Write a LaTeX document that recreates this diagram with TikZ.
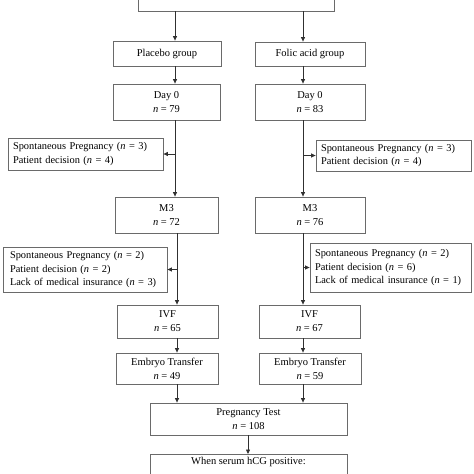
\documentclass[tikz,border=0pt]{standalone}
\usepackage{fontspec}
\setmainfont{Liberation Serif}
\usetikzlibrary{arrows.meta}
\definecolor{boxline}{HTML}{6A6A6A}
\definecolor{conline}{HTML}{303030}
\begin{document}
\begin{tikzpicture}[x=1pt,y=-1pt,
  box/.style={draw=boxline,line width=0.8pt,inner sep=0pt,align=center,
    font=\fontsize{10.5}{14}\selectfont},
  exbox/.style={draw=boxline,line width=0.8pt,inner xsep=5pt,inner ysep=0pt,align=left,
    font=\fontsize{10.4}{13.4}\selectfont},
  arr/.style={draw=conline,line width=0.7pt,-{Triangle[length=4.5pt,width=4pt]}}]
\useasboundingbox[fill=white] (0,0) rectangle (474,474);
\coordinate (cL) at (175,0);
\coordinate (cR) at (303,0);
\coordinate (cL2) at (177,0);
\coordinate (cM) at (248,0);
% boxes
\node[box,minimum width=196pt,minimum height=42pt] (top) at (236,-10) {};
\node[box,minimum width=108pt,minimum height=25pt] (placebo) at (167,53.5) {Placebo group};
\node[box,minimum width=110pt,minimum height=24pt] (folic) at (310,54) {Folic acid group};
\node[box,minimum width=107pt,minimum height=36pt] (day0L) at (166.5,102) {Day 0\\\textit{n}~=~79};
\node[box,minimum width=110pt,minimum height=36pt] (day0R) at (310,102) {Day 0\\\textit{n}~=~83};
\node[exbox,text width=145pt,minimum height=32pt] (exL1) at (85.5,154)
  {Spontaneous Pregnancy (\textit{n}~=~3)\\Patient decision (\textit{n}~=~4)};
\node[exbox,text width=145pt,minimum height=31pt] (exR1) at (393.5,155.5)
  {Spontaneous Pregnancy (\textit{n}~=~3)\\Patient decision (\textit{n}~=~4)};
\node[box,minimum width=103pt,minimum height=36pt] (m3L) at (166.5,215) {M3\\\textit{n}~=~72};
\node[box,minimum width=110pt,minimum height=36pt] (m3R) at (310,215) {M3\\\textit{n}~=~76};
\node[exbox,inner xsep=7pt,text width=150pt,minimum height=45pt] (exL2) at (85,269.5)
  {Spontaneous Pregnancy (\textit{n}~=~2)\\Patient decision (\textit{n}~=~2)\\Lack of medical insurance (\textit{n}~=~3)};
\node[exbox,text width=151pt,minimum height=49pt] (exR2) at (390.5,267.5)
  {Spontaneous Pregnancy (\textit{n}~=~2)\\Patient decision (\textit{n}~=~6)\\Lack of medical insurance (\textit{n}~=~1)};
\node[box,minimum width=101pt,minimum height=33pt] (ivfL) at (167.5,321.5) {IVF\\\textit{n}~=~65};
\node[box,minimum width=101pt,minimum height=33pt] (ivfR) at (309.5,321.5) {IVF\\\textit{n}~=~67};
\node[box,minimum width=102pt,minimum height=31pt] (etL) at (167,368.5) {Embryo Transfer\\\textit{n}~=~49};
\node[box,minimum width=102pt,minimum height=31pt] (etR) at (310,368.5) {Embryo Transfer\\\textit{n}~=~59};
\node[box,minimum width=197pt,minimum height=32pt] (preg) at (248.5,419) {Pregnancy Test\\\textit{n}~=~108};
\node[box,minimum width=197pt,inner ysep=3pt,text depth=40pt,anchor=north] (final) at (248.5,454)
  {When serum hCG positive:};
% connectors
\draw[arr] (top.south -| cL) -- (placebo.north -| cL);
\draw[arr] (top.south -| cR) -- (folic.north -| cR);
\draw[arr] (placebo.south -| cL) -- (day0L.north -| cL);
\draw[arr] (folic.south -| cR) -- (day0R.north -| cR);
\draw[arr] (day0L.south -| cL) -- (m3L.north -| cL);
\draw[arr] (day0R.south -| cR) -- (m3R.north -| cR);
\draw[arr] (exL1.east -| cL) -- (exL1.east);
\draw[arr] (exR1.west -| cR) -- (exR1.west);
\draw[arr] (m3L.south -| cL2) -- (ivfL.north -| cL2);
\draw[arr] (m3R.south -| cR) -- (ivfR.north -| cR);
\draw[arr] (exL2.east -| cL2) -- (exL2.east);
\draw[arr] (exR2.west -| cR) -- (exR2.west);
\draw[arr] (ivfL.south -| cL2) -- (etL.north -| cL2);
\draw[arr] (ivfR.south -| cR) -- (etR.north -| cR);
\draw[arr] (etL.south -| cL2) -- (preg.north -| cL2);
\draw[arr] (etR.south -| cR) -- (preg.north -| cR);
\draw[arr] (preg.south -| cM) -- (final.north -| cM);
\end{tikzpicture}
\end{document}
